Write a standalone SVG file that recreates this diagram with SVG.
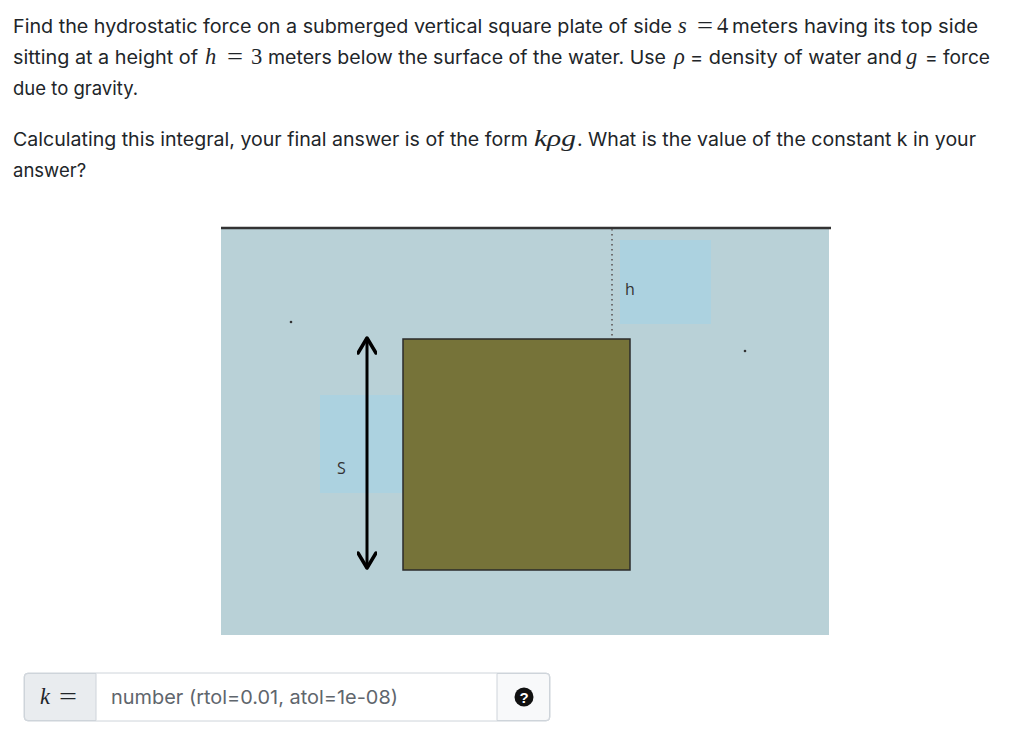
<svg xmlns="http://www.w3.org/2000/svg" width="1024" height="742" viewBox="0 0 1024 742">
<style>
.p{font-family:Inter,"Liberation Sans",sans-serif;font-size:18.5px;fill:#212529}
.m{font-family:"Liberation Serif","DejaVu Serif",serif;font-size:22.5px;fill:#212529;font-style:italic}
.mn{font-family:"Liberation Serif","DejaVu Serif",serif;font-size:22.5px;fill:#212529}
.lbl{font-family:"Open Sans","Liberation Sans",sans-serif;font-size:16px;fill:#333}
</style>
<defs>
<marker id="oa" viewBox="0 0 30 20" refX="28" refY="10" markerWidth="30" markerHeight="20" markerUnits="userSpaceOnUse" orient="auto-start-reverse">
<path d="M13,1 L28,10 L13,19" fill="none" stroke="#000" stroke-width="3.5" stroke-linecap="round" stroke-linejoin="round"/>
</marker>
</defs>
<rect width="1024" height="742" fill="#fff"/>
<g id="question">
<text class="p" x="13" y="33" textLength="659" lengthAdjust="spacingAndGlyphs">Find the hydrostatic force on a submerged vertical square plate of side</text>
<text class="m" x="678" y="33">s</text>
<text class="mn" x="697" y="33" textLength="16" lengthAdjust="spacingAndGlyphs">=</text>
<text class="mn" x="717" y="33">4</text>
<text class="p" x="732" y="33" textLength="246" lengthAdjust="spacingAndGlyphs">meters having its top side</text>
<text class="p" x="13" y="64" textLength="185" lengthAdjust="spacingAndGlyphs">sitting at a height of</text>
<text class="m" x="205" y="64">h</text>
<text class="mn" x="227" y="64" textLength="16" lengthAdjust="spacingAndGlyphs">=</text>
<text class="mn" x="251" y="64">3</text>
<text class="p" x="268" y="64" textLength="398" lengthAdjust="spacingAndGlyphs">meters below the surface of the water. Use</text>
<text class="m" x="674" y="64">ρ</text>
<text class="p" x="690" y="64" textLength="212" lengthAdjust="spacingAndGlyphs">= density of water and</text>
<text class="m" x="906" y="64">g</text>
<text class="p" x="925" y="64" textLength="65" lengthAdjust="spacingAndGlyphs">= force</text>
<text class="p" x="13" y="95">due to gravity.</text>
<text class="p" x="13" y="146" textLength="515" lengthAdjust="spacingAndGlyphs">Calculating this integral, your final answer is of the form</text>
<text class="m" x="534" y="146" textLength="42" lengthAdjust="spacingAndGlyphs">kρg</text>
<text class="p" x="577" y="146" textLength="399" lengthAdjust="spacingAndGlyphs">. What is the value of the constant k in your</text>
<text class="p" x="13" y="177">answer?</text>
</g>
<g id="water">
<rect x="221" y="228" width="608" height="407" fill="#b9d1d7"/>
<line x1="221" y1="228" x2="831" y2="228" stroke="#333" stroke-width="2.5"/>
<circle cx="291" cy="322" r="1.3" fill="#333"/>
<circle cx="745" cy="351" r="1.3" fill="#333"/>
</g>
<g id="h-label">
<rect x="620" y="240" width="91" height="84" fill="#acd2e0"/>
<text class="lbl" x="625" y="295">h</text>
</g>
<g id="s-label">
<rect x="320" y="395" width="83" height="98" fill="#acd2e0"/>
<text class="lbl" x="337" y="474">S</text>
</g>
<g id="plate">
<rect x="403" y="339" width="227" height="231" fill="#767339" stroke="#2b2b2b" stroke-width="1.5"/>
</g>
<g id="connectors">
<line x1="612" y1="229" x2="612" y2="339" stroke="#6e6e6e" stroke-width="2" stroke-dasharray="1.5 3.5"/>
<line x1="367" y1="338" x2="367" y2="568" stroke="#000" stroke-width="3" marker-start="url(#oa)" marker-end="url(#oa)"/>
</g>
<g id="answer-input">
<rect x="24" y="673" width="526" height="48" rx="4" fill="#fff" stroke="#ced4da" stroke-width="1"/>
<path d="M28,673.5 H96 V720.5 H28 A3.5,3.5 0 0 1 24.5,717 V677 A3.5,3.5 0 0 1 28,673.5 Z" fill="#e9ecef" stroke="#ced4da" stroke-width="1"/>
<path d="M497,673.5 H546 A3.5,3.5 0 0 1 549.5,677 V717 A3.5,3.5 0 0 1 546,720.5 H497 Z" fill="#f8f9fa" stroke="#ced4da" stroke-width="1"/>
<text class="m" x="40" y="704">k</text>
<text class="mn" x="59" y="704" textLength="18" lengthAdjust="spacingAndGlyphs">=</text>
<text x="111" y="704" font-family="Inter,'Liberation Sans',sans-serif" font-size="19" fill="#5f666d" textLength="287" lengthAdjust="spacingAndGlyphs">number (rtol=0.01, atol=1e-08)</text>
<circle cx="524" cy="697" r="9.5" fill="#111"/>
<text x="524" y="702.5" text-anchor="middle" font-family="'Liberation Sans',sans-serif" font-weight="bold" font-size="15" fill="#fff">?</text>
</g>
</svg>
